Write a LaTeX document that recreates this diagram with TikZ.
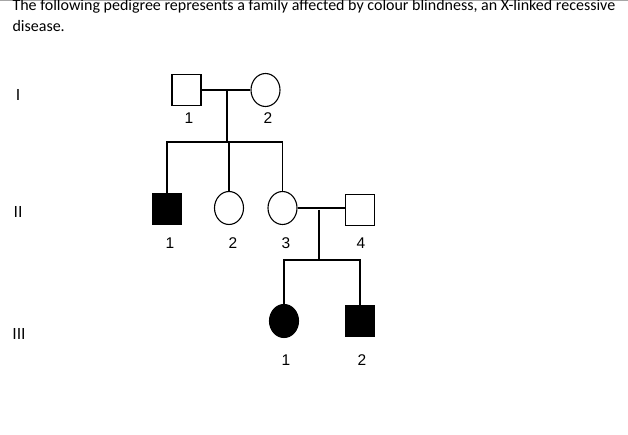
\documentclass[tikz,border=0pt]{standalone}
\usepackage{fontspec}
\usetikzlibrary{shapes.geometric}
\setmainfont{Liberation Sans}
\newfontfamily\calfont{Carlito}
\begin{document}
\begin{tikzpicture}[x=1pt,y=-1pt,line width=1.1pt,
  male/.style={draw,minimum width=29pt,minimum height=31pt,inner sep=0pt},
  female/.style={draw,ellipse,minimum width=29pt,minimum height=33pt,inner sep=0pt},
  aff/.style={fill=black},
  lab/.style={font=\fontsize{15.5}{17}\selectfont,inner sep=0pt},
  gen/.style={font=\fontsize{16}{18}\selectfont,inner sep=0pt}]
\useasboundingbox (0,0) rectangle (628,435);
\fill[gray!70] (0,0) rectangle (628,1.5);
\node[anchor=base west,inner sep=0pt,font=\calfont\fontsize{16}{18}\selectfont] (t1) at (12,11) {The following pedigree represents a family affected by colour blindness, an X-linked recessive};
\node[anchor=base west,inner sep=0pt,font=\calfont\fontsize{16}{18}\selectfont] (t2) at (12,32) {disease.};
\node[gen] (g1) at (18,95) {I};
\node[gen] (g2) at (18,212) {II};
\node[gen] (g3) at (19,334) {III};
\node[male] (a1) at (186.5,90) {};
\node[female] (a2) at (265.5,90) {};
\node[male,aff] (b1) at (167,209) {};
\node[female] (b2) at (229,208) {};
\node[female] (b3) at (282.5,208) {};
\node[male] (b4) at (360,210) {};
\node[female,aff] (c1) at (284,321) {};
\node[male,aff] (c2) at (360,321) {};
\node[lab] at (189,118) {1};
\node[lab] at (268,118) {2};
\node[lab] at (170,243) {1};
\node[lab] at (233,243) {2};
\node[lab] at (286,243) {3};
\node[lab] at (361,243) {4};
\node[lab] at (286,360) {1};
\node[lab] at (362,360) {2};
\coordinate (m1) at (227,90);
\coordinate (s1) at (227,142);
\coordinate (m2) at (319,210);
\coordinate (s2) at (319,260);
\draw (a1.east) -- (a2.west);
\draw (m1) -- (s1);
\draw (b1.north) |- (s1) -| (b3.north);
\draw (b2.north) -- (b2.north |- s1);
\draw (b3.east) -- (b3.east -| b4.west);
\draw (m2) -- (s2);
\draw (c1.north) |- (s2) -| (c2.north);
\end{tikzpicture}
\end{document}
